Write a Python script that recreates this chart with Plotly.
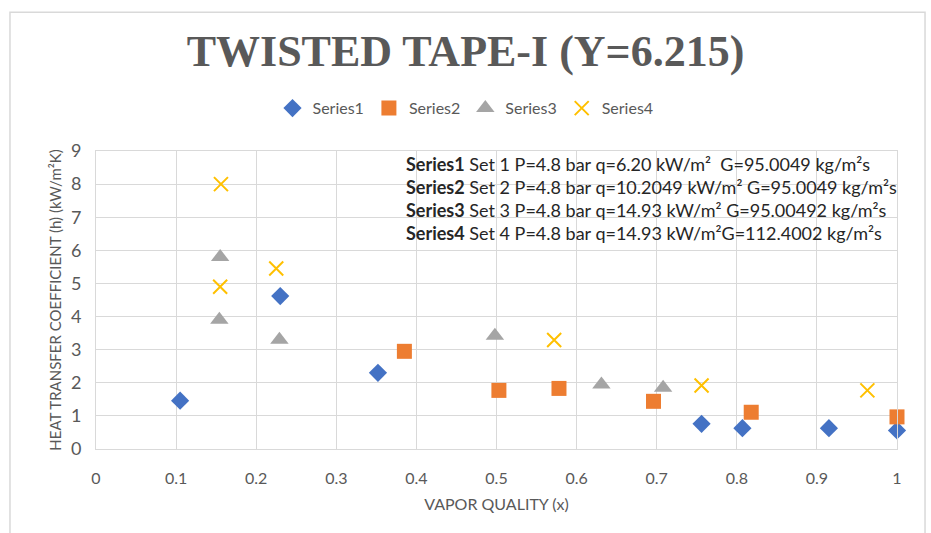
import plotly.graph_objects as go

# Data
s1_x = [0.105, 0.230, 0.352, 0.756, 0.807, 0.915, 1.000]
s1_y = [1.46, 4.62, 2.30, 0.76, 0.63, 0.63, 0.56]

s2_x = [0.385, 0.503, 0.578, 0.696, 0.818, 1.000]
s2_y = [2.95, 1.77, 1.83, 1.44, 1.11, 0.97]

s3_x = [0.154, 0.155, 0.229, 0.498, 0.631, 0.708]
s3_y = [3.90, 5.80, 3.30, 3.42, 1.95, 1.85]

s4_x = [0.156, 0.155, 0.225, 0.572, 0.756, 0.963]
s4_y = [8.00, 4.90, 5.45, 3.29, 1.92, 1.77]

series_names = ["Series1", "Series2", "Series3", "Series4"]
info_lines = [
    ("Series1", "Set 1 P=4.8 bar q=6.20 kW/m²  G=95.0049 kg/m²s"),
    ("Series2", "Set 2 P=4.8 bar q=10.2049 kW/m² G=95.0049 kg/m²s"),
    ("Series3", "Set 3 P=4.8 bar q=14.93 kW/m² G=95.00492 kg/m²s"),
    ("Series4", "Set 4 P=4.8 bar q=14.93 kW/m²G=112.4002 kg/m²s"),
]
x_ticks = [0, 0.1, 0.2, 0.3, 0.4, 0.5, 0.6, 0.7, 0.8, 0.9, 1]
y_ticks = [0, 1, 2, 3, 4, 5, 6, 7, 8, 9]

FONT = "Lato"
GRAY = "#595959"
GRID = "#D9D9D9"

fig = go.Figure()
fig.add_trace(go.Scatter(x=s1_x, y=s1_y, mode="markers", name=series_names[0], cliponaxis=False,
                         marker=dict(symbol="diamond", size=14, color="#4472C4")))
fig.add_trace(go.Scatter(x=s2_x, y=s2_y, mode="markers", name=series_names[1], cliponaxis=False,
                         marker=dict(symbol="square", size=15, color="#ED7D31")))
fig.add_trace(go.Scatter(x=s3_x, y=s3_y, mode="markers", name=series_names[2], cliponaxis=False,
                         marker=dict(symbol="triangle-up", size=16, color="#A5A5A5")))
fig.add_trace(go.Scatter(x=s4_x, y=s4_y, mode="markers", name=series_names[3], cliponaxis=False,
                         marker=dict(symbol="x-thin-open", size=14, color="#FFC000",
                                     line=dict(color="#FFC000", width=2))))

ys = [0.956, 0.880, 0.803, 0.726]
for (b, t), yy in zip(info_lines, ys):
    fig.add_annotation(xref="paper", yref="paper", x=0.385, y=yy, xanchor="left",
                       yanchor="middle", showarrow=False,
                       text=f"<b>{b}</b> {t}",
                       font=dict(family=FONT, size=18, color="#262626"))

fig.add_shape(type="rect", xref="paper", yref="paper",
              x0=-0.1074, x1=1.035, y0=-0.32, y1=1.466,
              line=dict(color=GRID, width=1.5), fillcolor="rgba(0,0,0,0)", layer="below")

fig.update_layout(
    width=931, height=533,
    margin=dict(l=96, r=34, t=151, b=84),
    paper_bgcolor="white", plot_bgcolor="white",
    title=dict(text="<b>TWISTED TAPE-I (Y=6.215)</b>", x=0.5, xref="container",
               y=0.905, yanchor="middle",
               font=dict(family="Liberation Serif", size=44, color=GRAY)),
    legend=dict(orientation="h", x=0.5, xanchor="center", xref="container",
                y=0.797, yanchor="middle", yref="container",
                font=dict(family=FONT, size=16, color=GRAY),
                itemwidth=30, tracegroupgap=0),
    showlegend=True,
)
fig.update_xaxes(range=[0, 1], tickvals=x_ticks, ticktext=[str(v) for v in x_ticks],
                 showgrid=True, gridcolor=GRID, gridwidth=1, zeroline=False,
                 showline=True, linecolor=GRID, mirror=True,
                 tickfont=dict(family=FONT, size=16, color=GRAY),
                 ticklabelstandoff=15,
                 title=dict(text="VAPOR QUALITY (x)", standoff=12,
                            font=dict(family=FONT, size=16, color=GRAY)))
fig.update_yaxes(range=[0, 9], tickvals=y_ticks,
                 showgrid=True, gridcolor=GRID, gridwidth=1, zeroline=False,
                 showline=True, linecolor=GRID, mirror=True,
                 tickfont=dict(family=FONT, size=18, color=GRAY),
                 ticklabelstandoff=10,
                 title=dict(text="HEAT TRANSFER COEFFICIENT (h) (kW/m²K)", standoff=5,
                            font=dict(family=FONT, size=15, color=GRAY)))

fig.write_html("out.html")
